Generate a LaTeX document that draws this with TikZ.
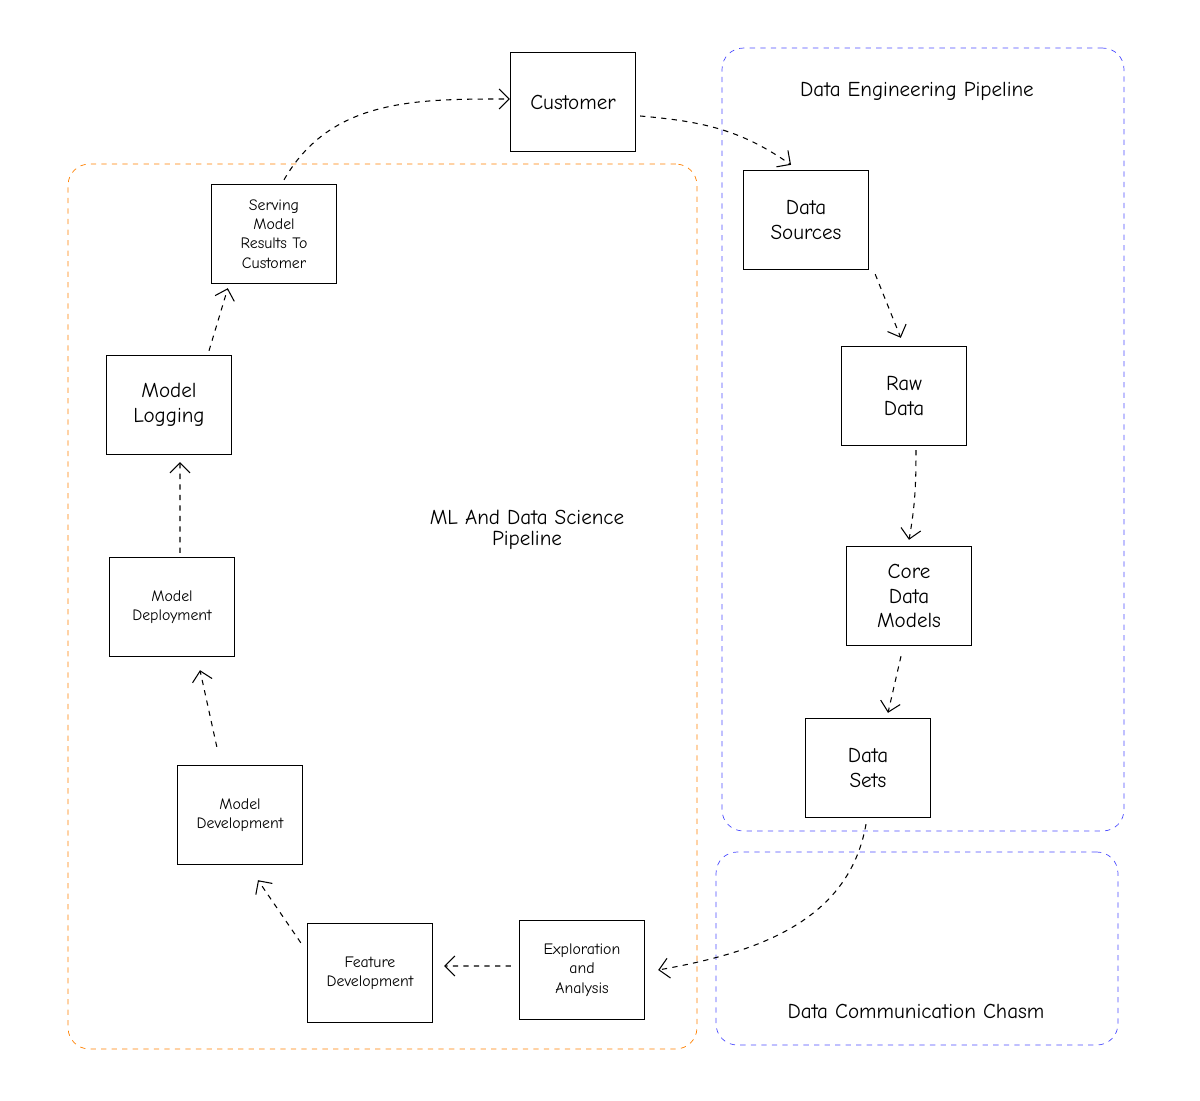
\documentclass[tikz,border=0pt]{standalone}
\usepackage{fontspec}
\setmainfont{Comic Neue}
\usetikzlibrary{arrows.meta, positioning}
\begin{document}
\begin{tikzpicture}[x=0.02cm, y=-0.02cm,
  box/.style={draw, thick, align=center, minimum width=2.5cm, minimum height=1.98cm, inner sep=1pt},
  big/.style={box, font=\large},
  small/.style={box, font=\small},
  flow/.style={-{Straight Barb[length=2mm]}, dashed, semithick},
  region/.style={draw, dashed, rounded corners=12pt},
  ]
\useasboundingbox (0,0) rectangle (1200,1101);

% regions
\node (ml) [region, draw=orange, minimum width=12.58cm, minimum height=17.7cm] at (382.5,606.5) {};
\node (de) [region, draw=blue!70, minimum width=8.04cm, minimum height=15.66cm] at (923,439.5) {};
\node (chasm) [region, draw=blue!70, minimum width=8.04cm, minimum height=3.86cm] at (917,948.5) {};
\node (detitle) at (917,91) {\large Data Engineering Pipeline};
\node (mltitle) [align=center] at (527,530) {\large ML And Data Science\\\large Pipeline};
\node (chtitle) at (916,1011) {\large Data Communication Chasm};

% boxes
\node (cust) [big] at (573,102) {Customer};
\node (src) [big] at (806,220) {Data\\Sources};
\node (raw) [big] at (904,396) {Raw\\Data};
\node (core) [big] at (909,596) {Core\\Data\\Models};
\node (sets) [big] at (868,768) {Data\\Sets};
\node (expl) [small] at (582,970) {Exploration\\and\\Analysis};
\node (feat) [small] at (370,973) {Feature\\Development};
\node (mdev) [small] at (240,815) {Model\\Development};
\node (mdep) [small] at (172,607) {Model\\Deployment};
\node (mlog) [big] at (169,405) {Model\\Logging};
\node (serve) [small] at (274,234) {Serving\\Model\\Results To\\Customer};

% connectors
\draw [flow] (serve.north) ++(10,-4) to[out=60, in=180] ([yshift=0.06cm]cust.west);
\draw [flow] (cust.east) ++(4,14) to[out=-5, in=145] ([xshift=-0.3cm, yshift=0.1cm]src.north);
\draw [flow] (src.south east) ++(6,4) -- ([xshift=1.2cm, yshift=0.16cm]raw.north west);
\draw [flow] (raw.south) ++(12,4) to[out=-90, in=80] ([yshift=0.12cm]core.north);
\draw [flow] (core.south) ++(-8,10) -- ([xshift=0.4cm, yshift=0.1cm]sets.north);
\draw [flow] (sets.south) ++(-2,6) to[out=-100, in=10] ([xshift=0.26cm, yshift=0.0cm]expl.east);
\draw [flow] (expl.west) ++(-8,-4) -- ([xshift=0.22cm, yshift=0.14cm]feat.east);
\draw [flow] (feat.north west) ++(-6,20) -- ([xshift=0.36cm, yshift=-0.3cm]mdev.south);
\draw [flow] (mdev.north west) ++(40,-18) -- ([xshift=0.56cm, yshift=-0.26cm]mdep.south);
\draw [flow] (mdep.north) ++(8,-4) -- ([xshift=0.22cm, yshift=-0.14cm]mlog.south);
\draw [flow] (mlog.north) ++(40,-4) -- ([xshift=0.34cm, yshift=-0.08cm]serve.south west);
\end{tikzpicture}
\end{document}
